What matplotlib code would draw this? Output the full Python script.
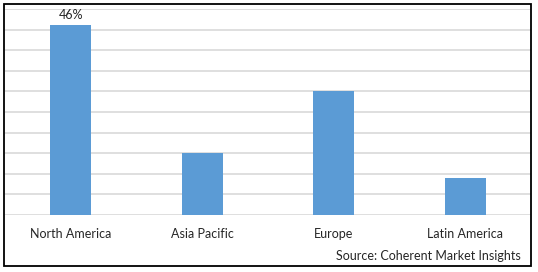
import matplotlib
matplotlib.use("Agg")
import matplotlib.pyplot as plt
from matplotlib.patches import Rectangle

regions = ["North America", "Asia Pacific", "Europe", "Latin America"]
share = [46, 15, 30, 9]
label_text = {"North America": "46%"}

W, H = 538, 272
fig = plt.figure(figsize=(W / 100, H / 100), dpi=100)
plt.rcParams['font.family'] = ['Lato', 'DejaVu Sans']

# plot area in pixels: x 5..531, y 9..215 (from top)
ax = fig.add_axes([5 / W, (H - 215) / H, 526 / W, 206 / H])
ax.bar(range(len(regions)), share, width=0.31, color="#5B9BD5", zorder=3)
ax.set_xlim(-0.5, len(regions) - 0.5)
ax.set_ylim(0, 50)
ax.set_yticks(range(0, 51, 5))
ax.yaxis.grid(True, color="#d9d9d9", linewidth=1.2, zorder=0)
ax.set_yticklabels([])
ax.tick_params(axis="y", length=0)
ax.set_xticks(range(len(regions)))
ax.set_xticklabels(regions, fontsize=9, color="#262626")
ax.tick_params(axis="x", length=0, pad=9)
for s in ax.spines.values():
    s.set_visible(False)

for i, r in enumerate(regions):
    if r in label_text:
        ax.annotate(label_text[r], (i, share[i]), xytext=(0, 3), textcoords="offset points",
                    ha="center", va="bottom", fontsize=9, color="#262626")

fig.text(521 / W, 1 - 256 / H, "Source: Coherent Market Insights", ha="right", va="center",
         fontsize=9, color="#262626")

# outer frame
fig.patches.append(Rectangle((3.5 / W, 1 - 266 / H), 527 / W, 262 / H, transform=fig.transFigure,
                             fill=False, edgecolor="black", linewidth=1.3))

fig.savefig("out.png", dpi=100)
